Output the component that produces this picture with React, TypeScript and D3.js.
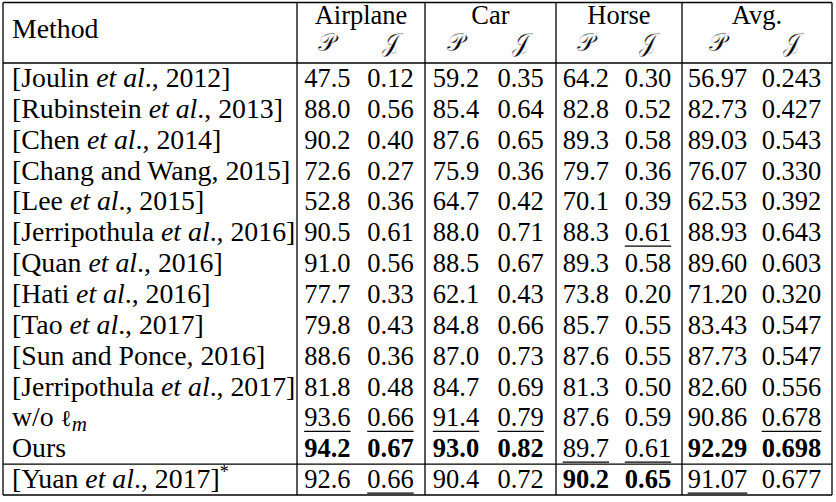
import { useEffect, useRef } from 'react';
import * as d3 from 'd3';

const methods = [
  '[Joulin et al., 2012]',
  '[Rubinstein et al., 2013]',
  '[Chen et al., 2014]',
  '[Chang and Wang, 2015]',
  '[Lee et al., 2015]',
  '[Jerripothula et al., 2016]',
  '[Quan et al., 2016]',
  '[Hati et al., 2016]',
  '[Tao et al., 2017]',
  '[Sun and Ponce, 2016]',
  '[Jerripothula et al., 2017]',
  'w/o ℓ_m',
  'Ours',
  '[Yuan et al., 2017]*'
];

const categories = ['Airplane', 'Car', 'Horse', 'Avg.'];
const metrics = ['𝒫', '𝒥'];

const airplaneP = ['47.5', '88.0', '90.2', '72.6', '52.8', '90.5', '91.0', '77.7', '79.8', '88.6', '81.8', '93.6', '94.2', '92.6'];
const airplaneJ = ['0.12', '0.56', '0.40', '0.27', '0.36', '0.61', '0.56', '0.33', '0.43', '0.36', '0.48', '0.66', '0.67', '0.66'];
const carP = ['59.2', '85.4', '87.6', '75.9', '64.7', '88.0', '88.5', '62.1', '84.8', '87.0', '84.7', '91.4', '93.0', '90.4'];
const carJ = ['0.35', '0.64', '0.65', '0.36', '0.42', '0.71', '0.67', '0.43', '0.66', '0.73', '0.69', '0.79', '0.82', '0.72'];
const horseP = ['64.2', '82.8', '89.3', '79.7', '70.1', '88.3', '89.3', '73.8', '85.7', '87.6', '81.3', '87.6', '89.7', '90.2'];
const horseJ = ['0.30', '0.52', '0.58', '0.36', '0.39', '0.61', '0.58', '0.20', '0.55', '0.55', '0.50', '0.59', '0.61', '0.65'];
const avgP = ['56.97', '82.73', '89.03', '76.07', '62.53', '88.93', '89.60', '71.20', '83.43', '87.73', '82.60', '90.86', '92.29', '91.07'];
const avgJ = ['0.243', '0.427', '0.543', '0.330', '0.392', '0.643', '0.603', '0.320', '0.547', '0.547', '0.556', '0.678', '0.698', '0.677'];

// "row:column" keys, columns ordered as airplaneP, airplaneJ, carP, ... avgJ
const boldCells = ['12:0', '12:1', '12:2', '12:3', '12:6', '12:7', '13:4', '13:5'];
const underlineCells = ['5:5', '11:0', '11:1', '11:2', '11:3', '11:7', '12:4', '12:5', '13:1', '13:6'];

const FONT = '"Liberation Serif", "Times New Roman", serif';

export default function App() {
  const svgRef = useRef<SVGSVGElement>(null);

  useEffect(() => {
    if (!svgRef.current) return;
    const width = 836;
    const height = 502;
    const fontSize = 26.5;
    const labelSize = 27.8;

    const svg = d3.select(svgRef.current);
    svg.selectAll('*').remove();
    svg.attr('width', width).attr('height', height);

    const columns = [airplaneP, airplaneJ, carP, carJ, horseP, horseJ, avgP, avgJ];

    const y = d3.scaleBand<number>()
      .domain(d3.range(methods.length))
      .range([63, 495]);

    const xCat = d3.scaleLinear()
      .domain([-1, 0, 1, 2, 3, 4])
      .range([3, 297, 425, 556, 682, 832]);

    const metricOffset = [0.237, 0.73];
    const colX = (c: number) => xCat(Math.floor(c / 2) + metricOffset[c % 2]);
    const baseline = (r: number) => (y(r) || 0) + y.bandwidth() / 2 + 8.5;

    const g = svg.append('g').style('font-family', FONT).attr('font-size', fontSize).attr('fill', '#000');

    // Header
    g.append('text').attr('x', 12).attr('y', 38).attr('font-size', labelSize).text('Method');

    g.selectAll('.cat')
      .data(categories)
      .enter()
      .append('text')
      .attr('x', (_, i) => (xCat(i) + xCat(i + 1)) / 2)
      .attr('y', 24)
      .attr('text-anchor', 'middle')
      .attr('font-size', 26.5)
      .text(d => d);

    // script P / J: thin the heavy glyph with a white outline
    g.selectAll('.metric')
      .data(d3.range(8))
      .enter()
      .append('text')
      .attr('x', c => colX(c))
      .attr('y', 51)
      .attr('text-anchor', 'middle')
      .style('font-family', '"DejaVu Serif", "DejaVu Sans", serif')
      .attr('font-size', 25)
      .attr('stroke', '#fff')
      .attr('stroke-width', 0.45)
      .text(c => metrics[c % 2]);

    // Method names
    methods.forEach((m, r) => {
      const t = g.append('text').attr('x', 12).attr('y', baseline(r)).attr('font-size', labelSize);
      if (m.includes('_')) {
        const [base, sub] = m.split('_');
        const [plain, ell] = base.split(' ');
        t.append('tspan').text(plain + ' ');
        t.append('tspan').style('font-family', '"DejaVu Serif", serif').attr('font-size', 23).text(ell);
        t.append('tspan').attr('font-style', 'italic').attr('font-size', 21).attr('dy', 5).text(sub);
        return;
      }
      const star = m.endsWith('*');
      const text = star ? m.slice(0, -1) : m;
      const parts = text.split('et al.');
      parts.forEach((p, i) => {
        if (i > 0) t.append('tspan').attr('font-style', 'italic').text('et al');
        if (i > 0) p = '.' + p;
        t.append('tspan').text(p);
      });
      if (star) t.append('tspan').attr('font-size', 18).attr('dy', -10).text('*');
    });

    // Values
    columns.forEach((col, c) => {
      col.forEach((v, r) => {
        const key = `${r}:${c}`;
        const t = g.append('text')
          .attr('x', colX(c))
          .attr('y', baseline(r))
          .attr('text-anchor', 'middle')
          .attr('font-weight', boldCells.includes(key) ? 'bold' : 'normal')
          .text(v);
        if (underlineCells.includes(key)) {
          const bb = (t.node() as SVGTextElement).getBBox();
          g.append('line')
            .attr('x1', bb.x)
            .attr('x2', bb.x + bb.width)
            .attr('y1', baseline(r) + 5)
            .attr('y2', baseline(r) + 5)
            .attr('stroke', '#000')
            .attr('stroke-width', 1.2);
        }
      });
    });

    // Rules
    const lines = svg.append('g').attr('stroke', '#000').attr('stroke-width', 1.3).attr('fill', 'none');
    const top = 2.5;
    const bottom = 495;
    [top, 63, y(methods.length - 1) || 0, bottom].forEach(yy => {
      lines.append('line').attr('x1', xCat(-1)).attr('x2', xCat(4)).attr('y1', yy).attr('y2', yy);
    });
    d3.range(-1, 5).forEach(i => {
      lines.append('line').attr('x1', xCat(i)).attr('x2', xCat(i)).attr('y1', top).attr('y2', bottom);
    });
  }, []);

  return (
    <div style={{ position: 'absolute', left: 0, top: 0, width: 836, height: 502, background: '#fff' }}>
      <svg ref={svgRef} style={{ display: 'block' }}></svg>
    </div>
  );
}
